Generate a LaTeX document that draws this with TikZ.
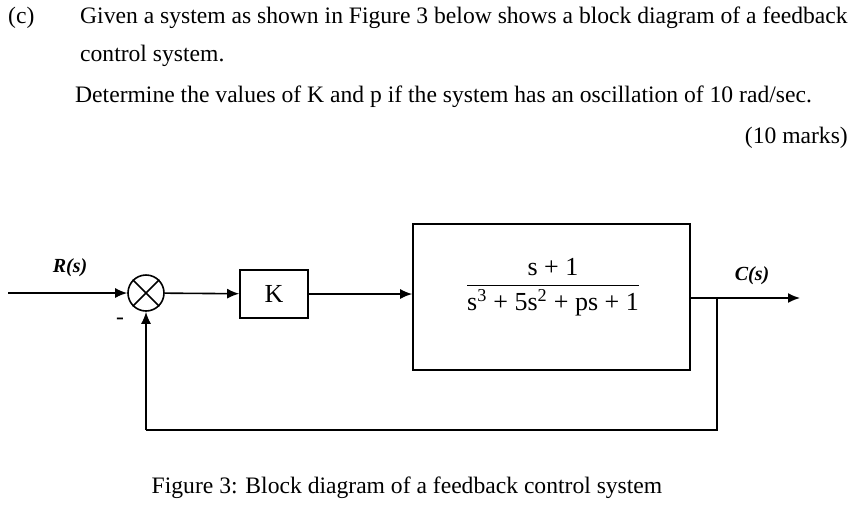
\documentclass[tikz,border=0pt]{standalone}
\usepackage{amsmath}
\usepackage{fontspec}
\setmainfont{Liberation Serif}
\usetikzlibrary{arrows.meta, positioning}
\tikzset{%
  txt/.style={inner sep=0pt, font=\fontsize{23.6}{28}\selectfont},
  block/.style={rectangle, draw, line width=1.6pt, inner sep=0pt},
  sumj/.style={circle, draw, line width=1.6pt, minimum size=36pt, inner sep=0pt},
  line/.style={draw, line width=1.6pt, -{Latex[length=12pt, width=10pt]}},
  plain/.style={draw, line width=1.6pt}}
\begin{document}
\begin{tikzpicture}[x=1pt, y=-1pt]
    \useasboundingbox (0, 0) rectangle (866, 523);

    % question text
    \node [txt, anchor=west] (part) at (8, 18) {(c)};
    \node [txt, anchor=west] (line1) at (80, 18) {Given a system as shown in Figure 3 below shows a block diagram of a feedback};
    \node [txt, anchor=west] (line2) at (80, 56) {control system.};
    \node [txt, anchor=west] (line3) at (75, 97) {Determine the values of K and p if the system has an oscillation of 10 rad/sec.};
    \node [txt, anchor=east] (marks) at (848, 138) {(10 marks)};

    % diagram
    \node [sumj] (sum) at (146, 293) {};
    \draw [line width=1.6pt] (sum.north west) -- (sum.south east) (sum.north east) -- (sum.south west);
    \node [block, minimum width=68pt, minimum height=48pt, txt, font=\fontsize{26}{30}\selectfont] (gain) at (274, 294) {K};
    \node [block, minimum width=277pt, minimum height=146pt] (plant) at (551.5, 297) {};
    \node [txt, font=\fontsize{26}{30}\selectfont] (tf) at (553, 287) {$\dfrac{\text{s + 1}}{\text{s\textsuperscript{3} + 5s\textsuperscript{2} + ps + 1}}$};

    \coordinate (input) at (8, 293);
    \coordinate (output) at (800, 298);
    \coordinate (branch) at (717, 298);
    \coordinate (fbright) at (717, 430);
    \coordinate (fbleft) at (146, 430);

    \node [txt, font=\fontsize{20}{24}\selectfont\bfseries\itshape] (rlab) at (70, 268) {R(s)};
    \node [txt, font=\fontsize{20}{24}\selectfont\bfseries\itshape] (clab) at (752, 276) {C(s)};
    \node [txt] (minus) at (120, 321) {-};

    \path [line] (input) -- (sum);
    \path [line] (sum) -- (gain);
    \path [line] (gain) -- (plant.west |- gain);
    \path [line] (plant.east |- output) -- (output);
    \path [plain] (branch) -- (fbright) -- (fbleft);
    \path [line] (fbleft) -- (sum.south);

    \node [txt] (caption) at (407, 488) {Figure 3: Block diagram of a feedback control system};
\end{tikzpicture}
\end{document}
